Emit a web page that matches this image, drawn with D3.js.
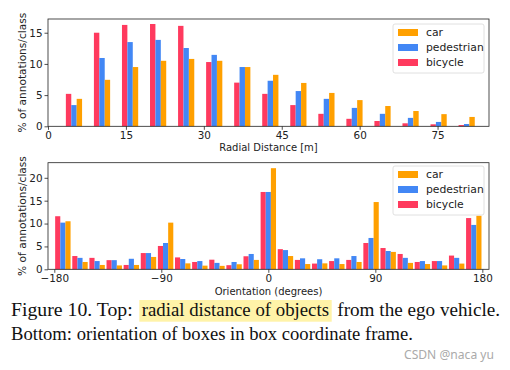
<!DOCTYPE html>
<html>
<head>
<meta charset="utf-8">
<script src="https://cdn.jsdelivr.net/npm/d3@7"></script>
<style>
  body { margin: 0; background: #fff; }
  svg { display: block; }
  .tick text { font-family: "DejaVu Sans", sans-serif; font-size: 10.4px; fill: #222; }
  .lab { font-family: "DejaVu Sans", sans-serif; font-size: 10px; fill: #222; }
  .cap { font-family: "Liberation Serif", "Times New Roman", serif; font-size: 18.5px; fill: #111; }
</style>
</head>
<body>
<div id="fig"></div>
<script>
// settings
var classes = ["bicycle", "pedestrian", "car"];
var colors = {car: "#ffa000", pedestrian: "#4287f5", bicycle: "#ff3a5e"};
var legendOrder = ["car", "pedestrian", "bicycle"];

// top: radial distance (bin centres in m)
var distBins = [5.0, 10.4, 15.8, 21.2, 26.6, 32.0, 37.4, 42.8, 48.2, 53.6, 59.0, 64.4, 69.8, 75.2, 80.6];
var distBicycle    = [5.2, 15.0, 16.25, 16.4, 16.1, 10.3, 7.0, 5.2, 3.4, 2.0, 1.2, 0.85, 0.48, 0.32, 0.2];
var distPedestrian = [3.4, 10.95, 13.5, 13.85, 12.55, 11.45, 9.5, 7.3, 5.65, 4.4, 2.95, 2.0, 1.35, 0.7, 0.37];
var distCar        = [4.4, 7.45, 9.5, 10.5, 10.8, 10.5, 9.5, 8.25, 6.95, 5.35, 4.2, 3.25, 2.45, 1.95, 1.5];
var distTicks = [0, 15, 30, 45, 60, 75];

// bottom: orientation (bin centres in degrees)
var oriBins = [-172.8, -158.4, -144, -129.6, -115.2, -100.8, -86.4, -72, -57.6, -43.2, -28.8, -14.4, 0,
               14.4, 28.8, 43.2, 57.6, 72, 86.4, 100.8, 115.2, 129.6, 144, 158.4, 172.8];
var oriBicycle    = [11.6, 2.9, 2.5, 2.0, 0.95, 3.55, 5.1, 2.6, 1.6, 2.1, 0.9, 2.85, 16.9,
                     4.4, 2.05, 1.25, 1.8, 2.05, 5.75, 4.65, 3.35, 1.6, 1.8, 3.0, 11.2];
var oriPedestrian = [10.2, 2.5, 1.8, 2.0, 2.3, 3.55, 5.75, 2.25, 1.8, 1.4, 1.6, 3.35, 16.9,
                     4.2, 2.4, 2.2, 2.4, 2.9, 6.85, 4.0, 2.5, 1.8, 1.8, 2.5, 9.7];
var oriCar        = [10.5, 1.6, 0.95, 0.85, 0.95, 2.7, 10.2, 1.3, 0.8, 0.75, 1.1, 2.05, 22.1,
                     2.9, 1.15, 1.3, 1.15, 1.6, 14.7, 3.8, 1.4, 1.15, 0.85, 1.25, 11.7];
var oriTicks = [-180, -90, 0, 90, 180];

var width = 510, height = 370;
var svg = d3.select("#fig").append("svg")
    .attr("width", width)
    .attr("height", height);

function drawPanel(opt) {
  var x = d3.scaleLinear().domain(opt.xDomain).range([opt.left, opt.right]);
  var y = d3.scaleLinear().domain(opt.yDomain).range([opt.bottom, opt.top]);
  var g = svg.append("g");

  var series = {bicycle: opt.bicycle, pedestrian: opt.pedestrian, car: opt.car};
  classes.forEach(function(c, k) {
    g.append("g").selectAll("rect")
      .data(opt.bins)
      .enter()
      .append("rect")
      .attr("x", function(d) { return x(d + (k - 1.5) * opt.barW); })
      .attr("width", function(d) { return x(d + (k - 0.5) * opt.barW) - x(d + (k - 1.5) * opt.barW); })
      .attr("y", function(d, i) { return y(series[c][i]); })
      .attr("height", function(d, i) { return y(0) - y(series[c][i]); })
      .attr("fill", colors[c]);
  });

  // axes
  g.append("g")
    .attr("transform", "translate(0," + opt.bottom + ")")
    .call(d3.axisBottom(x).tickValues(opt.xTicks).tickSize(3.5).tickPadding(2).tickFormat(d3.format("")))
    .call(function(a) { a.select(".domain").remove(); });
  g.append("g")
    .attr("transform", "translate(" + opt.left + ",0)")
    .call(d3.axisLeft(y).tickValues(opt.yTicks).tickSize(3.5).tickPadding(2))
    .call(function(a) { a.select(".domain").remove(); });
  g.selectAll(".tick line").attr("stroke", "#222").attr("stroke-width", 0.8);
  g.selectAll(".tick text").text(function() { return d3.select(this).text().replace("-", "\u2212"); });

  g.append("rect")
    .attr("x", opt.left).attr("y", opt.top)
    .attr("width", opt.right - opt.left).attr("height", opt.bottom - opt.top)
    .attr("fill", "none").attr("stroke", "#222").attr("stroke-width", 0.8);

  g.append("text").attr("class", "lab")
    .attr("text-anchor", "middle")
    .attr("transform", "translate(22," + ((opt.top + opt.bottom) / 2) + ") rotate(-90)")
    .attr("dy", "0.35em")
    .style("font-size", "10.6px")
    .text("% of annotations/class");
  g.append("text").attr("class", "lab")
    .attr("text-anchor", "middle")
    .attr("x", (opt.left + opt.right) / 2)
    .attr("y", opt.xLabelY)
    .text(opt.xLabel);

  // legend
  var lg = g.append("g").attr("transform", "translate(" + opt.legX + "," + opt.legY + ")");
  lg.append("rect").attr("width", 91).attr("height", 49).attr("rx", 2)
    .attr("fill", "#fff").attr("fill-opacity", 0.85)
    .attr("stroke", "#d8d8d8").attr("stroke-width", 0.8);
  legendOrder.forEach(function(c, i) {
    lg.append("rect").attr("x", 5).attr("y", 5 + i * 15).attr("width", 20).attr("height", 7)
      .attr("fill", colors[c]);
    lg.append("text").attr("class", "lab").attr("x", 33).attr("y", 8.5 + i * 15)
      .attr("dy", "0.35em").style("font-size", "10.8px").text(c);
  });
}

drawPanel({
  left: 48, right: 489, top: 19, bottom: 126.3,
  xDomain: [0, 84.9], yDomain: [0, 17.2],
  bins: distBins, barW: 1.04,
  bicycle: distBicycle, pedestrian: distPedestrian, car: distCar,
  xTicks: distTicks, yTicks: [0, 5, 10, 15],
  xLabel: "Radial Distance [m]", xLabelY: 151,
  legX: 393, legY: 24
});

drawPanel({
  left: 48, right: 489, top: 162.7, bottom: 269.3,
  xDomain: [-185.3, 185.6], yDomain: [0, 23.3],
  bins: oriBins, barW: 4.32,
  bicycle: oriBicycle, pedestrian: oriPedestrian, car: oriCar,
  xTicks: oriTicks, yTicks: [0, 5, 10, 15, 20],
  xLabel: "Orientation (degrees)", xLabelY: 294.5,
  legX: 393, legY: 166
});

// caption
var cap = svg.append("g");
cap.append("rect").attr("x", 139.3).attr("y", 300).attr("width", 192.4).attr("height", 21.7)
  .attr("fill", "#fff3a8");
function capText(t, x0, y0, len) {
  cap.append("text").attr("class", "cap").attr("x", x0).attr("y", y0)
    .attr("textLength", len).attr("lengthAdjust", "spacingAndGlyphs").text(t);
}
capText("Figure 10. Top:", 11, 316, 121.7);
capText("radial distance of objects", 141.7, 316, 187.3);
capText("from the ego vehicle.", 337.3, 316, 162.7);
capText("Bottom: orientation of boxes in box coordinate frame.", 11, 339.5, 402);
svg.append("text")
  .attr("x", 494).attr("y", 358.5).attr("text-anchor", "end")
  .attr("textLength", 90).attr("lengthAdjust", "spacingAndGlyphs")
  .style("font-family", "'Noto Sans', sans-serif").style("font-size", "12px").style("fill", "#aaa")
  .text("CSDN @naca yu");
</script>
</body>
</html>
